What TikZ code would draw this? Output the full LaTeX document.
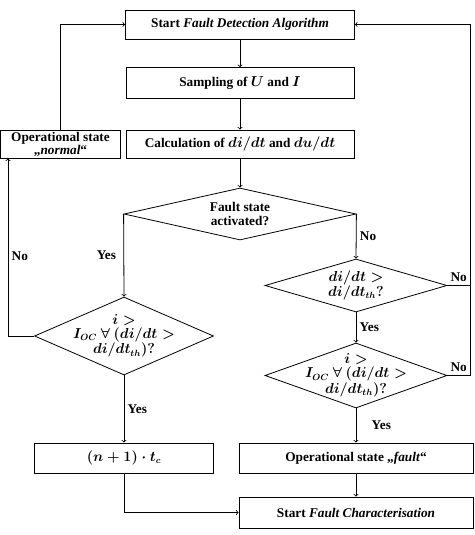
\documentclass[tikz,border=0pt]{standalone}
\usepackage{amsmath}
\usepackage{amssymb}
\usepackage{fontspec}
\setmainfont{Liberation Serif}
\usetikzlibrary{shapes.geometric}

\begin{document}
\boldmath
\begin{tikzpicture}[x=1pt, y=-1pt, line width=0.8pt, font=\bfseries\fontsize{13.3}{14}\selectfont,
  block/.style={draw, rectangle, inner sep=1pt},
  decision/.style={draw, diamond, inner sep=0pt},
  every label/.style={align=center},
  arr/.style={->}]
  \useasboundingbox (0,0) rectangle (474,535);
  \node[block, minimum width=229, minimum height=29] (start) at (240,24.5) {Start \textit{Fault Detection Algorithm}};
  \node[block, minimum width=228, minimum height=31] (samp) at (240,83) {Sampling of $U$ and $I$};
  \node[block, minimum width=228, minimum height=28] (calc) at (240,144) {Calculation of $di/dt$ and $du/dt$};
  \node[block, minimum width=120, minimum height=28, inner sep=0pt, align=center, font=\bfseries\fontsize{13.3}{13}\selectfont] (normal) at (60.5,144) {Operational state\\„\textit{normal}“};
  \node[decision, minimum width=232, minimum height=52, label=center:{Fault state\\activated?}] (act) at (240,214) {};
  \node[decision, minimum width=182, minimum height=53, label=center:{$di/dt>$\\$di/dt_{th}?$}] (slope) at (356,285.5) {};
  \node[decision, minimum width=182, minimum height=65, label=center:{$i>$\\$I_{OC}\mathbin{\forall}(di/dt>$\\$di/dt_{th})?$}] (chkR) at (356,375.5) {};
  \node[decision, minimum width=179, minimum height=78, label=center:{$i>$\\$I_{OC}\mathbin{\forall}(di/dt>$\\$di/dt_{th})?$}] (chkL) at (124,336) {};
  \node[block, minimum width=179, minimum height=30] (tc) at (124,458) {$(n+1)\cdot t_c$};
  \node[block, minimum width=234, minimum height=30] (fault) at (356,458) {Operational state „\textit{fault}“};
  \node[block, minimum width=234, minimum height=31] (charac) at (356,512.5) {Start \textit{Fault Characterisation}};
  \coordinate (rt) at (470,0);
  \coordinate (lf) at (8,0);

  \draw[arr] (start) -- (samp);
  \draw[arr] (samp) -- (calc);
  \draw[arr] (calc) -- (act);
  \draw[arr] (normal.north) |- (start.west);
  \draw[arr] (act.west) -- node[midway, left, xshift=-4pt] {Yes} (chkL.north);
  \draw[arr] (act.east) -- node[midway, right] {No} (slope.north);
  \draw[arr] (slope.east) -- node[midway, above] {No} (slope.east -| rt) |- (start.east);
  \draw (chkR.east) -- node[midway, above] {No} (chkR.east -| rt) -- (slope.east -| rt);
  \draw[arr] (slope.south) -- node[midway, right] {Yes} (chkR.north);
  \draw[arr] (chkR.south) -- node[midway, right, xshift=12pt] {Yes} (fault.north);
  \draw[arr] (fault.south) -- (charac.north);
  \draw[arr] (chkL.west) -- (chkL.west -| lf) -- node[pos=0.45, right] {No} (normal.south -| lf);
  \draw[arr] (chkL.south) -- node[midway, right] {Yes} (tc.north);
  \draw[arr] (tc.south) |- (charac.west);
\end{tikzpicture}
\end{document}
